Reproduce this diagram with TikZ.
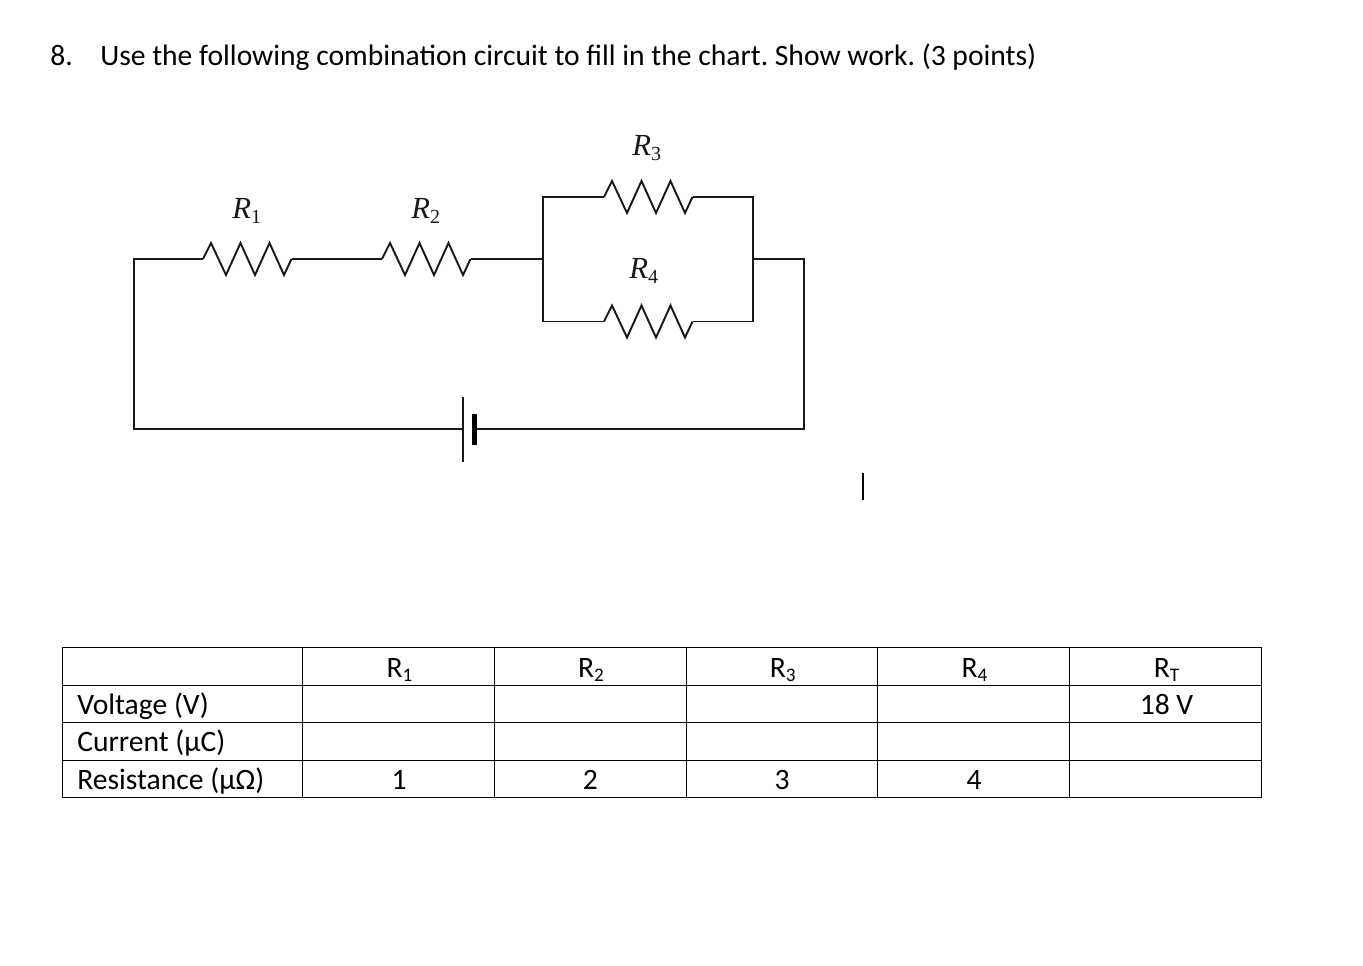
\documentclass[tikz,border=0pt]{standalone}
\usepackage{fontspec}
\setmainfont{Carlito}
\newfontfamily\labelfont{Liberation Serif}
\newcommand{\lowsub}[1]{\raisebox{-3.4pt}{\fontsize{14.4}{15}\selectfont #1}}
\newcommand{\lblR}[1]{\labelfont\fontsize{23}{26}\selectfont\textit{R}\raisebox{-3.6pt}{\fontsize{15}{16}\selectfont #1}}
\tikzset{
  x=0.75pt,y=-0.75pt,
  wire/.style={line width=1.45pt,black!90,line join=miter},
  grid line/.style={line width=0.75pt,black},
  txt/.style={anchor=base,inner sep=0pt,text=black,font=\frenchspacing\fontsize{22.2}{25}\selectfont},
  lefttxt/.style={txt,anchor=base west},
  lbl/.style={anchor=base west,inner sep=0pt,text=black!90},
  resistor/.pic={
    \coordinate (-in) at (0,0);
    \coordinate (-out) at (88.5,0);
    \draw[wire] (-in) -- (8,-16) -- (23,16) -- (37.5,-16) -- (52,16) -- (66.5,-16) -- (81,16) -- (-out);
  }
}
\begin{document}
\begin{tikzpicture}
\useasboundingbox (0,0) rectangle (1363,966);
% title
\node[lefttxt] (num) at (50,66) {8.};
\node[lefttxt] (title) at (100,66) {Use the following combination circuit to fill in the chart. Show work. (3 points)};
% resistors
\pic (r1) at (203,259) {resistor};
\pic (r2) at (382,259) {resistor};
\pic (r3) at (604,197) {resistor};
\pic (r4) at (604,321.5) {resistor};
\node[lbl] (lr1) at (232,219) {\lblR{1}};
\node[lbl] (lr2) at (411,219) {\lblR{2}};
\node[lbl] (lr3) at (632,156) {\lblR{3}};
\node[lbl] (lr4) at (629,279) {\lblR{4}};
% junctions and corners
\coordinate (tl) at (134,259);
\coordinate (bl) at (134,429.3);
\coordinate (jl) at (543,259);
\coordinate (jlt) at (543,197);
\coordinate (jlb) at (543,321.5);
\coordinate (jr) at (752.7,259);
\coordinate (jrt) at (752.7,197);
\coordinate (jrb) at (752.7,321.5);
\coordinate (tr) at (803.7,259);
\coordinate (br) at (803.7,429.3);
\coordinate (batl) at (463.3,429.3);
\coordinate (batr) at (474.5,429.3);
% wires
\draw[wire] (r1-in) -- (tl) -- (bl) -- (batl);
\draw[wire] (r1-out) -- (r2-in);
\draw[wire] (r2-out) -- (jl);
\draw[wire] (r3-in) -- (jlt) -- (jlb) -- (r4-in);
\draw[wire] (r3-out) -- (jrt) -- (jrb) -- (r4-out);
\draw[wire] (jr) -- (tr) -- (br) -- (batr);
% battery
\draw[wire] (463.3,397) -- (463.3,462);
\fill[black] (471.5,413.5) rectangle (477.3,445);
% text cursor
\draw[line width=1.5pt,black] (862.7,473) -- (862.7,500);
% table
\draw[grid line] (62,647.5) rectangle (1261.5,797.3);
\foreach \yy in {685.5,722.8,760.5} \draw[grid line] (62,\yy) -- (1261.5,\yy);
\foreach \xx in {302.5,494.5,686.2,877.7,1069.3} \draw[grid line] (\xx,647.5) -- (\xx,797.3);
\node[txt] (h1) at (399.5,677) {R\lowsub{1}};
\node[txt] (h2) at (591,677) {R\lowsub{2}};
\node[txt] (h3) at (782.8,677) {R\lowsub{3}};
\node[txt] (h4) at (974.5,677) {R\lowsub{4}};
\node[txt] (h5) at (1166.5,677) {R\lowsub{T}};
\node[lefttxt] (rv) at (77,714) {Voltage (V)};
\node[lefttxt] (rc) at (77,751.5) {Current (µC)};
\node[lefttxt] (rr) at (77,789) {Resistance (µΩ)};
\node[txt] (vt) at (1166.5,714) {18 V};
\node[txt] (v1) at (399,789) {1};
\node[txt] (v2) at (590.3,789) {2};
\node[txt] (v3) at (782,789) {3};
\node[txt] (v4) at (974,789) {4};
\end{tikzpicture}
\end{document}
